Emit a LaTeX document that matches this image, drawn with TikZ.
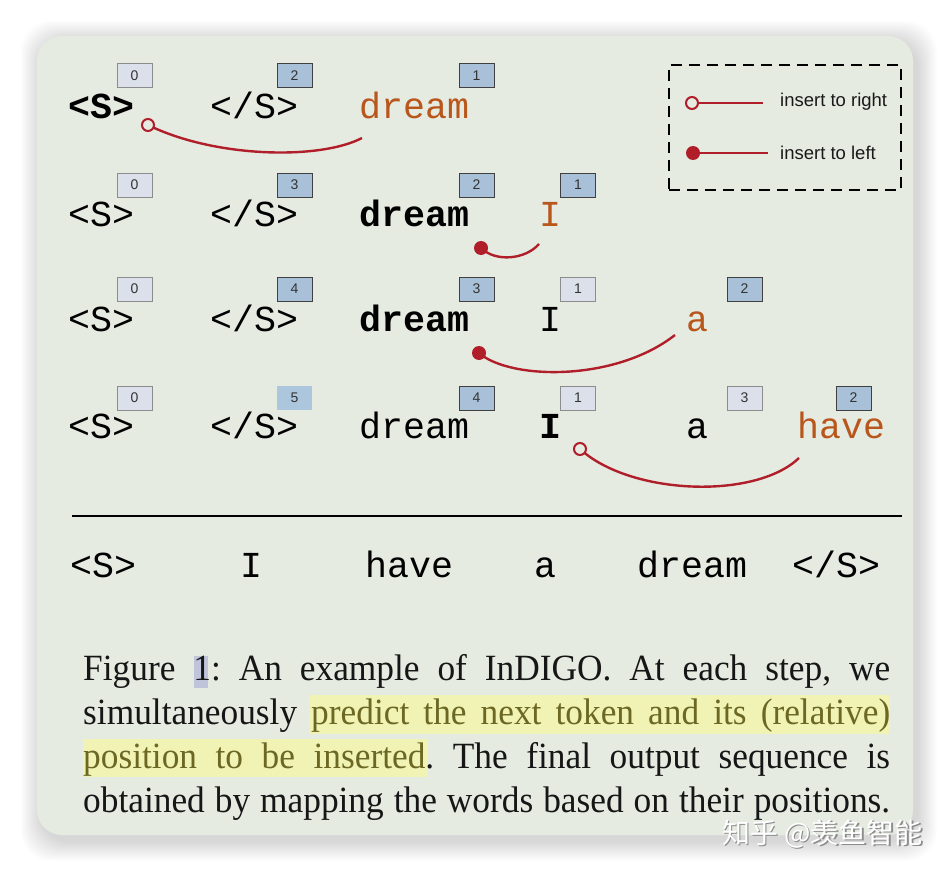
\documentclass[tikz,border=0pt]{standalone}
\usepackage{fontspec}
\setmainfont{Liberation Serif}
\newfontfamily\capfont[FakeStretch=0.955]{Liberation Serif}
\newfontfamily\tokfont{Liberation Mono}
\newfontfamily\badgefont{Liberation Sans}
\newfontfamily\cjkfont{Noto Sans CJK SC}
\usetikzlibrary{calc}
\definecolor{card}{RGB}{230,235,226}
\definecolor{newtok}{RGB}{184,86,28}
\definecolor{arcred}{RGB}{176,30,42}
\definecolor{badgelight}{RGB}{220,224,235}
\definecolor{badgeblue}{RGB}{168,192,216}
\definecolor{badgenob}{RGB}{172,198,222}
\definecolor{hiyellow}{RGB}{240,243,180}
\definecolor{hitext}{RGB}{108,104,36}
\definecolor{hifig}{RGB}{192,196,218}
\definecolor{captext}{RGB}{22,22,22}
\frenchspacing
\begin{document}
\begin{tikzpicture}[x=1pt,y=-1pt,
  tok/.style={anchor=base west, inner sep=0pt, font=\tokfont\fontsize{36.6}{40}\selectfont, text=black},
  tokb/.style={tok, font=\tokfont\bfseries\fontsize{36.6}{40}\selectfont},
  tokn/.style={tok, text=newtok},
  badge/.style={minimum width=35pt, minimum height=24pt, inner sep=0pt, line width=1pt,
    font=\badgefont\fontsize{14}{14}\selectfont, text=black!80},
  bl/.style={badge, fill=badgelight, draw=black!45},
  bb/.style={badge, fill=badgeblue, draw=black!75},
  bn/.style={badge, fill=badgenob},
  arc/.style={draw=arcred, line width=2.4pt},
  omark/.style={circle, draw=arcred, line width=2pt, fill=card, minimum size=12pt, inner sep=0pt},
  fmark/.style={circle, fill=arcred, minimum size=14pt, inner sep=0pt},
  legbox/.style={draw=black, line width=2.4pt, dash pattern=on 11pt off 7pt, minimum width=232pt, minimum height=125pt, inner sep=0pt},
  legtext/.style={anchor=west, inner sep=0pt, font=\badgefont\fontsize{18.5}{20}\selectfont, text=black!90},
  capline/.style={anchor=base west, inner sep=0pt, font=\capfont\fontsize{37}{44}\selectfont, text=captext},
  wm/.style={anchor=base west, inner sep=0pt, font=\cjkfont\fontsize{28}{28}\selectfont}
]
\useasboundingbox (0,0) rectangle (950,872);
\fill[white] (0,0) rectangle (950,872);
% card shadow
\foreach \i in {1,...,20} {
  \fill[black, opacity=0.008, rounded corners=30pt] (37-\i+4,37-\i+4) rectangle (913+\i+4,835+\i+6);
}
\fill[card, rounded corners=25pt] (37,36) rectangle (913,835);

% ---------- row 1 ----------
\node[tokb] (r1a) at (68,119) {<S>};
\node[tok]  (r1b) at (210,119) {</S>};
\node[tokn] (r1c) at (359,119) {dream};
\node[bl] (b1a) at (134.5,76) {0};
\node[bb] (b1b) at (294.5,76) {2};
\node[bb] (b1c) at (476.5,76) {1};

% ---------- row 2 ----------
\node[tok]  (r2a) at (68,226) {<S>};
\node[tok]  (r2b) at (210,226) {</S>};
\node[tokb] (r2c) at (359,226) {dream};
\node[tokn] (r2d) at (539,226) {I};
\node[bl] (b2a) at (134.5,185) {0};
\node[bb] (b2b) at (294.5,185) {3};
\node[bb] (b2c) at (476.5,185) {2};
\node[bb] (b2d) at (578,185) {1};

% ---------- row 3 ----------
\node[tok]  (r3a) at (68,331) {<S>};
\node[tok]  (r3b) at (210,331) {</S>};
\node[tokb] (r3c) at (359,331) {dream};
\node[tok]  (r3d) at (539,331) {I};
\node[tokn] (r3e) at (686,331) {a};
\node[bl] (b3a) at (134.5,289) {0};
\node[bb] (b3b) at (294.5,289) {4};
\node[bb] (b3c) at (476.5,289) {3};
\node[bl] (b3d) at (578,289) {1};
\node[bb] (b3e) at (744.5,289) {2};

% ---------- row 4 ----------
\node[tok]  (r4a) at (68,438) {<S>};
\node[tok]  (r4b) at (210,438) {</S>};
\node[tok]  (r4c) at (359,438) {dream};
\node[tokb] (r4d) at (539,438) {I};
\node[tok]  (r4e) at (686,438) {a};
\node[tokn] (r4f) at (797,438) {have};
\node[bl] (b4a) at (134.5,398) {0};
\node[bn] (b4b) at (294.5,398) {5};
\node[bb] (b4c) at (476.5,398) {4};
\node[bl] (b4d) at (578,398) {1};
\node[bl] (b4e) at (744.5,398) {3};
\node[bb] (b4f) at (853.5,398) {2};

% ---------- arcs ----------
\coordinate (s1) at (148,125); \coordinate (e1) at (362,138);
\draw[arc] (s1) .. controls (215,158) and (320,160) .. (e1);
\node[omark] (m1) at (s1) {};

\coordinate (s2) at (481,248); \coordinate (e2) at (539,244);
\draw[arc] (s2) .. controls (495,262) and (525,260) .. (e2);
\node[fmark] (m2) at (s2) {};

\coordinate (s3) at (479,353); \coordinate (e3) at (675,335);
\draw[arc] (s3) .. controls (510,380) and (615,382) .. (e3);
\node[fmark] (m3) at (s3) {};

\coordinate (s4) at (580,449); \coordinate (e4) at (799,458);
\draw[arc] (s4) .. controls (630,495) and (755,500) .. (e4);
\node[omark] (m4) at (s4) {};

% ---------- legend ----------
\node[legbox] (leg) at (785,127.5) {};
\coordinate (lo) at (692,103); \coordinate (loe) at (763,103);
\draw[arc] (lo) -- (loe);
\node[omark] (lom) at (lo) {};
\node[legtext] (lt1) at (780,102) {insert to right};
\coordinate (lf) at (693,153); \coordinate (lfe) at (768,153);
\draw[arc] (lf) -- (lfe);
\node[fmark] (lfm) at (lf) {};
\node[legtext] (lt2) at (780,153) {insert to left};

% ---------- separator ----------
\coordinate (hl) at (72,516); \coordinate (hr) at (902,516);
\draw[line width=2.2pt, black] (hl) -- (hr);

% ---------- final sequence ----------
\node[tok] (f1) at (70,577) {<S>};
\node[tok] (f2) at (240,577) {I};
\node[tok] (f3) at (365,577) {have};
\node[tok] (f4) at (534,577) {a};
\node[tok] (f5) at (637,577) {dream};
\node[tok] (f6) at (792,577) {</S>};

% ---------- caption ----------
\fill[hifig] (194,656) rectangle (208,688);
\fill[hiyellow] (310,695) rectangle (890,734);
\fill[hiyellow] (83,739) rectangle (428,777);
\node[capline] (c1) at (83,680) {\makebox[807pt][s]{Figure 1: An example of InDIGO. At each step, we}};
\node[capline] (c2) at (83,724) {\makebox[807pt][s]{simultaneously \textcolor{hitext}{predict the next token and its (relative)}}};
\node[capline] (c3) at (83,768) {\makebox[807pt][s]{\textcolor{hitext}{position to be inserted}. The final output sequence is}};
\node[capline] (c4) at (83,812) {\makebox[807pt][s]{obtained by mapping the words based on their positions.}};

% ---------- watermark ----------
\node[wm, text=black!45] (wms) at (723.5,844.5) {知乎 @羡鱼智能};
\node[wm, text=white] (wmt) at (722,843) {知乎 @羡鱼智能};
\end{tikzpicture}
\end{document}
